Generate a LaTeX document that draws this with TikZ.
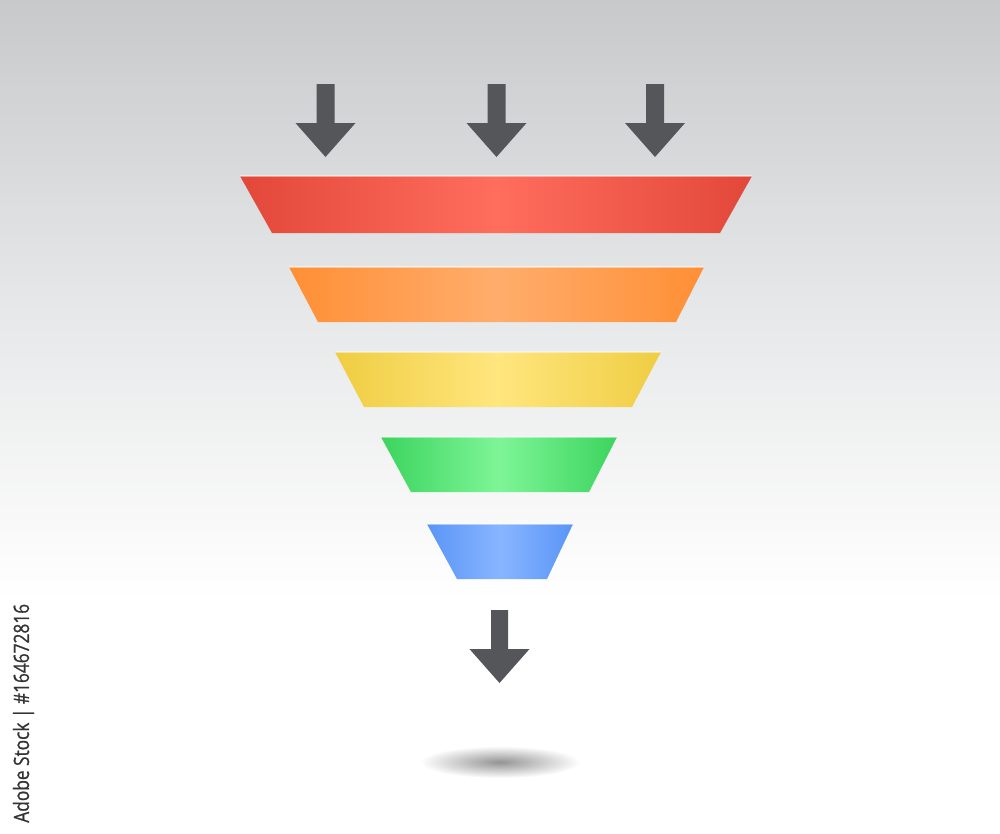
\documentclass[tikz,border=0pt]{standalone}
\usepackage{graphicx}
\usepackage{fontspec}
\newfontfamily\labelfont[FakeBold=0.9]{Open Sans}
\usetikzlibrary{calc}
\definecolor{arrowgray}{HTML}{55565A}
\definecolor{bgtop}{HTML}{C8C9CB}
\definecolor{bgmid}{HTML}{E6E7E8}
\definecolor{redE}{HTML}{E2483A}
\definecolor{redM}{HTML}{FF6D5D}
\definecolor{orgE}{HTML}{FF8F35}
\definecolor{orgM}{HTML}{FFAD6C}
\definecolor{yelE}{HTML}{EFCD42}
\definecolor{yelM}{HTML}{FFE67E}
\definecolor{grnE}{HTML}{3CD45E}
\definecolor{grnM}{HTML}{7EF597}
\definecolor{bluE}{HTML}{5A95F6}
\definecolor{bluM}{HTML}{88B5FF}
\pgfdeclareverticalshading{bgshade}{100bp}{color(0bp)=(white); color(39bp)=(white); color(57bp)=(bgmid); color(75bp)=(bgtop); color(100bp)=(bgtop)}
\tikzset{
  blockarrow/.style={fill=arrowgray, draw=none},
  band/.style n args={2}{left color=#1, right color=#1, middle color=#2, draw=none},
  bandrim/.style={draw=white, draw opacity=0.45, line width=0.025cm},
}
\begin{document}
\begin{tikzpicture}[x=0.02cm, y=-0.02cm]
\useasboundingbox (0,0) rectangle (1000,833);
% background
\shade[shading=bgshade, draw=none] (0,0) rectangle (1000,833);

% shadow under the funnel
\shade[inner color=black!42, outer color=white] (500,762) ellipse [x radius=80, y radius=16];

% input arrows
\foreach \cx/\nm in {325.5/inA, 496.5/inB, 655/inC}{
  \coordinate (\nm) at (\cx,84);
  \fill[blockarrow] ($(\nm)+(-9,0)$) -- ($(\nm)+(9,0)$) -- ($(\nm)+(9,39)$) -- ($(\nm)+(30,39)$)
    -- ($(\nm)+(0,73)$) -- ($(\nm)+(-30,39)$) -- ($(\nm)+(-9,39)$) -- cycle;
}

% funnel bands
\coordinate (b1tl) at (240,176); \coordinate (b1tr) at (752,176);
\coordinate (b1br) at (720,233); \coordinate (b1bl) at (272,233);
\shade[band={redE}{redM}] (b1tl) -- (b1tr) -- (b1br) -- (b1bl) -- cycle;
\draw[bandrim] (b1tl) -- (b1tr);

\coordinate (b2tl) at (289,267); \coordinate (b2tr) at (704,267);
\coordinate (b2br) at (676,322); \coordinate (b2bl) at (318,322);
\shade[band={orgE}{orgM}] (b2tl) -- (b2tr) -- (b2br) -- (b2bl) -- cycle;
\draw[bandrim] (b2tl) -- (b2tr);

\coordinate (b3tl) at (335,352); \coordinate (b3tr) at (661,352);
\coordinate (b3br) at (632,407); \coordinate (b3bl) at (364,407);
\shade[band={yelE}{yelM}] (b3tl) -- (b3tr) -- (b3br) -- (b3bl) -- cycle;
\draw[bandrim] (b3tl) -- (b3tr);

\coordinate (b4tl) at (381,437); \coordinate (b4tr) at (617,437);
\coordinate (b4br) at (589,492); \coordinate (b4bl) at (411,492);
\shade[band={grnE}{grnM}] (b4tl) -- (b4tr) -- (b4br) -- (b4bl) -- cycle;
\draw[bandrim] (b4tl) -- (b4tr);

\coordinate (b5tl) at (427,524); \coordinate (b5tr) at (573,524);
\coordinate (b5br) at (547,579); \coordinate (b5bl) at (457,579);
\shade[band={bluE}{bluM}] (b5tl) -- (b5tr) -- (b5br) -- (b5bl) -- cycle;
\draw[bandrim] (b5tl) -- (b5tr);

% output arrow
\coordinate (out) at (499.5,610);
\fill[blockarrow] ($(out)+(-8.5,0)$) -- ($(out)+(8.5,0)$) -- ($(out)+(8.5,39)$) -- ($(out)+(30,39)$)
  -- ($(out)+(0,73)$) -- ($(out)+(-30,39)$) -- ($(out)+(-8.5,39)$) -- cycle;

% side label
\node[rotate=90, anchor=west, inner sep=0pt, text=black!80, font=\labelfont\fontsize{12}{14}\selectfont] (credit) at (23.5,823) {\scalebox{0.82}[1]{Adobe Stock | \#164672816}};
\end{tikzpicture}
\end{document}
